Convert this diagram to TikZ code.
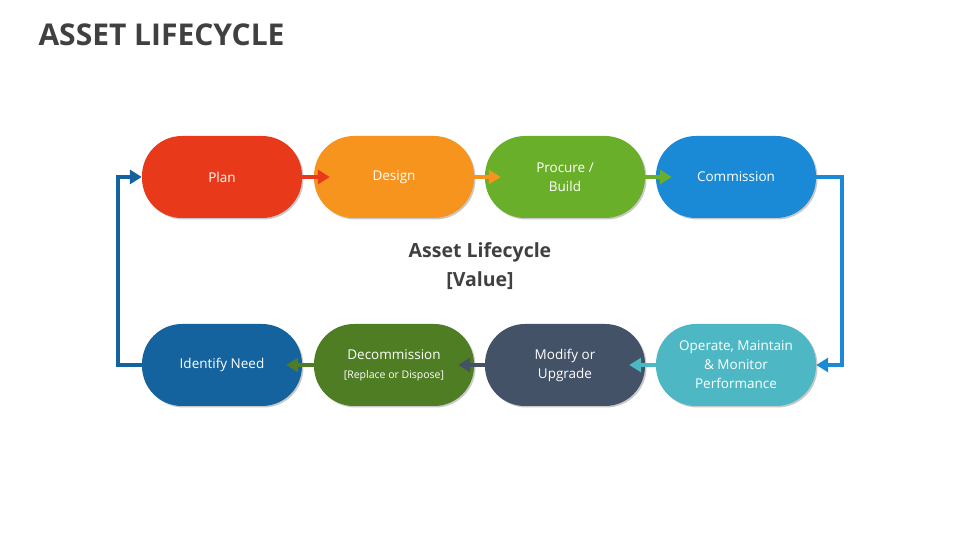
\documentclass[tikz,border=0pt]{standalone}
\usepackage{fontspec}
\setmainfont{Open Sans}
\usetikzlibrary{arrows.meta,shadows}
\definecolor{cPlan}{HTML}{E8391A}
\definecolor{cDesign}{HTML}{F7941D}
\definecolor{cProc}{HTML}{6AAF2A}
\definecolor{cComm}{HTML}{1B8AD6}
\definecolor{cOper}{HTML}{4DB8C4}
\definecolor{cMod}{HTML}{435266}
\definecolor{cDec}{HTML}{4E7D23}
\definecolor{cId}{HTML}{14639E}
\definecolor{tgray}{HTML}{404040}
\tikzset{
  pill/.style={fill=#1, rounded corners=40pt, minimum width=160pt, minimum height=82pt,
    text=white, font=\fontsize{13.5pt}{19pt}\selectfont, align=center, inner sep=0pt,
    drop shadow={shadow xshift=1.5pt, shadow yshift=-1.5pt, opacity=0.35, fill=black!60}},
  link/.style={draw=#1, line width=4pt, -{Triangle[length=12pt,width=14pt]}},
}
\begin{document}
\begin{tikzpicture}[x=1pt,y=1pt]
\useasboundingbox (0,0) rectangle (960,540);
\fill[white] (0,0) rectangle (960,540);
\node[anchor=west, text=tgray, font=\fontsize{30pt}{36pt}\selectfont\bfseries] (title) at (35,505) {ASSET LIFECYCLE};
\node[pill=cPlan] (plan) at (222,363) {Plan};
\node[pill=cDesign] (design) at (394,363) {Design};
\node[pill=cProc] (proc) at (565,363) {Procure /\\Build};
\node[pill=cComm] (comm) at (736,363) {Commission};
\node[pill=cOper] (oper) at (736,175) {Operate, Maintain\\\& Monitor\\Performance};
\node[pill=cMod] (mod) at (565,175) {Modify or\\Upgrade};
\node[pill=cDec] (dec) at (394,175) {Decommission\\{\fontsize{10.5pt}{13pt}\selectfont [Replace or Dispose]}};
\node[pill=cId] (idn) at (222,175) {Identify Need};
\node[text=tgray, font=\fontsize{19.5pt}{29pt}\selectfont\bfseries, align=center] (center) at (480,274) {Asset Lifecycle\\{[Value]}};
\draw[link=cPlan] ([xshift=-4pt]plan.east) -- ([xshift=16pt]design.west);
\draw[link=cDesign] ([xshift=-4pt]design.east) -- ([xshift=16pt]proc.west);
\draw[link=cProc] ([xshift=-4pt]proc.east) -- ([xshift=16pt]comm.west);
\draw[link=cOper] ([xshift=4pt]oper.west) -- ([xshift=-16pt]mod.east);
\draw[link=cMod] ([xshift=4pt]mod.west) -- ([xshift=-16pt]dec.east);
\draw[link=cDec] ([xshift=4pt]dec.west) -- ([xshift=-16pt]idn.east);
\draw[link=cComm] (comm.east) -- ++(26,0) |- (oper.east);
\draw[link=cId] (idn.west) -- ++(-24,0) |- (plan.west);
\end{tikzpicture}
\end{document}
